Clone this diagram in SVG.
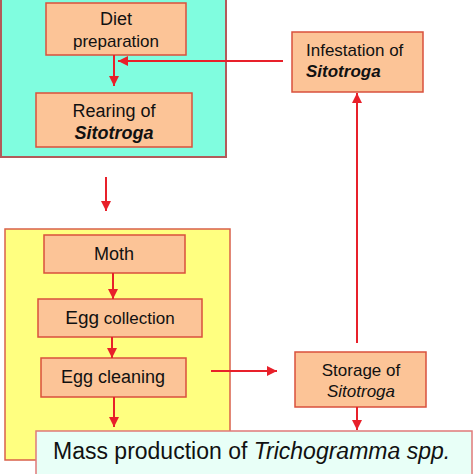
<svg xmlns="http://www.w3.org/2000/svg" width="474" height="474" viewBox="0 0 474 474">
<defs>
<marker id="ah" viewBox="0 0 10 10" refX="10" refY="5" markerWidth="10" markerHeight="10" markerUnits="userSpaceOnUse" orient="auto">
<path d="M0,0 L10,5 L0,10 z" fill="#e8202a"/>
</marker>
<style>
.box{fill:#fcc497;stroke:#d9503c;stroke-width:1.5}
.t{font-family:"Liberation Sans",Arial,sans-serif;fill:#111;text-anchor:middle}
.bi{font-weight:bold;font-style:italic}
.c{stroke:#e8202a;stroke-width:2;fill:none}
</style>
</defs>
<rect x="1" y="-5" width="225" height="162" fill="#80fddf" stroke="#b35a5a" stroke-width="2"/>
<rect x="5" y="229" width="225" height="231" fill="#ffff80" stroke="#d9604a" stroke-width="1.5"/>
<g id="diet">
<rect class="box" x="46" y="3" width="140" height="52"/>
<text class="t" x="116" y="25" font-size="18">Diet</text>
<text class="t" x="116" y="47" font-size="17">preparation</text>
</g>
<g id="rearing">
<rect class="box" x="36" y="93" width="156" height="54"/>
<text class="t" x="114" y="117" font-size="18">Rearing of</text>
<text class="t bi" x="114" y="139" font-size="18">Sitotroga</text>
</g>
<g id="infestation">
<rect class="box" x="292" y="32" width="131" height="60"/>
<text class="t" x="306" y="56" font-size="17" style="text-anchor:start">Infestation of</text>
<text class="t bi" x="306" y="77" font-size="17" style="text-anchor:start">Sitotroga</text>
</g>
<g id="moth">
<rect class="box" x="44" y="235" width="141" height="38"/>
<text class="t" x="114" y="260" font-size="18">Moth</text>
</g>
<g id="eggcollection">
<rect class="box" x="38" y="299" width="164" height="38"/>
<text class="t" x="120" y="324" font-size="17"><tspan font-size="19">Egg</tspan> collection</text>
</g>
<g id="eggcleaning">
<rect class="box" x="41" y="358" width="145" height="39"/>
<text class="t" x="113" y="383" font-size="18">Egg cleaning</text>
</g>
<g id="storage">
<rect class="box" x="295" y="352" width="131" height="55"/>
<text class="t" x="361" y="376" font-size="17">Storage of</text>
<text class="t" x="361" y="397" font-size="17" font-style="italic">Sitotroga</text>
</g>
<g id="mass">
<rect x="36" y="431" width="436" height="50" fill="#e8fff7" stroke="#e07a7a" stroke-width="1.5"/>
<text class="t" x="53" y="459" font-size="23" style="text-anchor:start">Mass production of <tspan font-style="italic">Trichogramma spp.</tspan></text>
</g>
<g id="connectors">
<line class="c" x1="114" y1="55" x2="114" y2="86" marker-end="url(#ah)"/>
<line class="c" x1="283" y1="61" x2="118" y2="61" marker-end="url(#ah)"/>
<line class="c" x1="357" y1="343" x2="357" y2="93" marker-end="url(#ah)"/>
<line class="c" x1="106" y1="177" x2="106" y2="211" marker-end="url(#ah)"/>
<line class="c" x1="113" y1="273" x2="113" y2="299" marker-end="url(#ah)"/>
<line class="c" x1="112" y1="337" x2="112" y2="358" marker-end="url(#ah)"/>
<line class="c" x1="114" y1="397" x2="114" y2="427" marker-end="url(#ah)"/>
<line class="c" x1="211" y1="371" x2="277" y2="371" marker-end="url(#ah)"/>
<line class="c" x1="357" y1="407" x2="357" y2="430" marker-end="url(#ah)"/>
</g>
</svg>
